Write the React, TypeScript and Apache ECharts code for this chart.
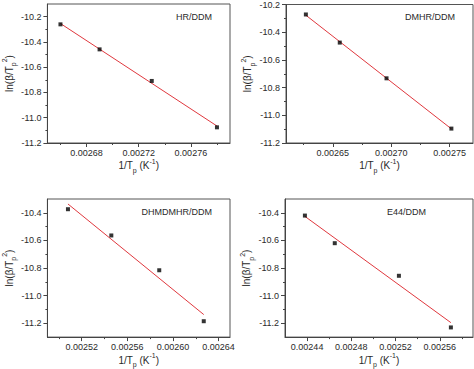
import React, { useEffect, useRef } from 'react';
import * as echarts from 'echarts';

const panelNames = ['HR/DDM', 'DMHR/DDM', 'DHMDMHR/DDM', 'E44/DDM'];

const hrX = [0.00266, 0.00269, 0.00273, 0.00278];
const hrY = [-10.261, -10.459, -10.709, -11.076];
const dmhrX = [0.002627, 0.002656, 0.002696, 0.0027515];
const dmhrY = [-10.272, -10.475, -10.733, -11.096];
const dhmX = [0.002508, 0.002546, 0.002588, 0.002627];
const dhmY = [-10.374, -10.564, -10.816, -11.185];
const e44X = [0.002438, 0.002465, 0.002523, 0.00257];
const e44Y = [-10.42, -10.62, -10.856, -11.23];

const xMin = [0.00265, 0.00261, 0.00249, 0.00242];
const xMax = [0.00279, 0.00277, 0.00265, 0.00259];
const yMin = [-11.2, -11.2, -11.3, -11.3];
const yMax = [-10.1, -10.2, -10.3, -10.3];

const xMajor = [
  [0.00268, 0.00272, 0.00276],
  [0.00265, 0.0027, 0.00275],
  [0.00252, 0.00256, 0.0026, 0.00264],
  [0.00244, 0.00248, 0.00252, 0.00256],
];
const xMinor = [
  [0.00266, 0.0027, 0.00274, 0.00278],
  [0.002625, 0.002675, 0.002725],
  [0.0025, 0.00254, 0.00258, 0.00262],
  [0.00246, 0.0025, 0.00254, 0.00258],
];
const yMajorTop = [-11.2, -11.0, -10.8, -10.6, -10.4, -10.2];
const yMinorTop = [-11.1, -10.9, -10.7, -10.5, -10.3];
const yMajorBottom = [-11.2, -11.0, -10.8, -10.6, -10.4];
const yMinorBottom = [-11.1, -10.9, -10.7, -10.5];

const FONT = "'Liberation Sans', Arial, sans-serif";
const AXIS_COLOR = '#444';
const TEXT_COLOR = '#2a2a2a';
const FIT_COLOR = '#e0383e';

function fitLine(xs: number[], ys: number[]): number[][] {
  const n = xs.length;
  const mx = xs.reduce((a, b) => a + b, 0) / n;
  const my = ys.reduce((a, b) => a + b, 0) / n;
  let sxy = 0;
  let sxx = 0;
  for (let i = 0; i < n; i++) {
    sxy += (xs[i] - mx) * (ys[i] - my);
    sxx += (xs[i] - mx) * (xs[i] - mx);
  }
  const b = sxy / sxx;
  const a = my - b * mx;
  const x0 = Math.min(...xs);
  const x1 = Math.max(...xs);
  return [
    [x0, a + b * x0],
    [x1, a + b * x1],
  ];
}

const grids = [
  { left: 44, top: 4, width: 186, height: 139 },
  { left: 286, top: 4, width: 187, height: 139 },
  { left: 44, top: 199, width: 186, height: 139 },
  { left: 285, top: 199, width: 188, height: 139 },
];
const labelInset = [18, 18, 18, 47];

export default function App() {
  const ref = useRef<HTMLDivElement>(null);
  useEffect(() => {
    if (!ref.current) return;
    const chart = echarts.init(ref.current, undefined, { renderer: 'svg' });
    const xs = [hrX, dmhrX, dhmX, e44X];
    const ys = [hrY, dmhrY, dhmY, e44Y];
    const rich = {
      sub: { fontSize: 7, fontFamily: FONT, color: TEXT_COLOR, verticalAlign: 'bottom', lineHeight: 8 },
      sup: { fontSize: 7, fontFamily: FONT, color: TEXT_COLOR, verticalAlign: 'top', lineHeight: 8 },
    };
    const xAxes: any[] = [];
    const yAxes: any[] = [];
    const series: any[] = [];
    const graphics: any[] = [];
    for (let i = 0; i < 4; i++) {
      const yMaj = i < 2 ? yMajorTop : yMajorBottom;
      const yMin_ = i < 2 ? yMinorTop : yMinorBottom;
      xAxes.push({
        type: 'value',
        gridIndex: i,
        position: 'bottom',
        min: xMin[i],
        max: xMax[i],
        name: '1/T{sub|p} (K{sup|-1})',
        nameLocation: 'middle',
        nameGap: 14,
        nameTextStyle: { fontSize: 10, fontFamily: FONT, color: TEXT_COLOR, lineHeight: 16, rich },
        axisLine: { show: true, lineStyle: { color: AXIS_COLOR, width: 1 } },
        axisTick: { show: true, length: 4, customValues: xMajor[i], lineStyle: { color: AXIS_COLOR } },
        axisLabel: {
          customValues: xMajor[i],
          fontSize: 9,
          fontFamily: FONT,
          color: TEXT_COLOR,
          margin: 5,
          formatter: (v: number) => v.toFixed(5),
        },
        splitLine: { show: false },
      });
      xAxes.push({
        type: 'value',
        gridIndex: i,
        position: 'bottom',
        min: xMin[i],
        max: xMax[i],
        axisLine: { show: false },
        axisTick: { show: true, length: 2, customValues: xMinor[i], lineStyle: { color: AXIS_COLOR } },
        axisLabel: { show: false },
        splitLine: { show: false },
      });
      yAxes.push({
        type: 'value',
        gridIndex: i,
        position: 'left',
        min: yMin[i],
        max: yMax[i],
        name: 'ln(β/T{sub|p}{sup|2})',
        nameLocation: 'middle',
        nameGap: 28,
        nameTextStyle: { fontSize: 10, fontFamily: FONT, color: TEXT_COLOR, lineHeight: 16, rich },
        axisLine: { show: true, lineStyle: { color: AXIS_COLOR, width: 1 } },
        axisTick: { show: true, length: 4, customValues: yMaj, lineStyle: { color: AXIS_COLOR } },
        axisLabel: {
          customValues: yMaj,
          fontSize: 9,
          fontFamily: FONT,
          color: TEXT_COLOR,
          margin: 6,
          formatter: (v: number) => v.toFixed(1),
        },
        splitLine: { show: false },
      });
      yAxes.push({
        type: 'value',
        gridIndex: i,
        position: 'left',
        min: yMin[i],
        max: yMax[i],
        axisLine: { show: false },
        axisTick: { show: true, length: 2, customValues: yMin_, lineStyle: { color: AXIS_COLOR } },
        axisLabel: { show: false },
        splitLine: { show: false },
      });
      series.push({
        type: 'line',
        xAxisIndex: i * 2,
        yAxisIndex: i * 2,
        data: fitLine(xs[i], ys[i]),
        showSymbol: false,
        symbol: 'none',
        lineStyle: { color: FIT_COLOR, width: 1 },
        z: 2,
      });
      series.push({
        type: 'scatter',
        xAxisIndex: i * 2,
        yAxisIndex: i * 2,
        data: xs[i].map((x, k) => [x, ys[i][k]]),
        symbol: 'rect',
        symbolSize: 4,
        itemStyle: { color: '#000' },
        z: 3,
      });
      const g = grids[i];
      graphics.push({
        type: 'text',
        right: 474 - (g.left + g.width) + labelInset[i],
        top: g.top + 8,
        style: { text: panelNames[i], fontSize: 9, fontFamily: FONT, fill: TEXT_COLOR },
      });
    }
    chart.setOption({
      animation: false,
      backgroundColor: '#fff',
      grid: grids.map((g) => ({ ...g, show: true, borderColor: '#555', borderWidth: 1, backgroundColor: 'transparent' })),
      xAxis: xAxes,
      yAxis: yAxes,
      series,
      graphic: graphics,
    });
    return () => chart.dispose();
  }, []);
  return (
    <div
      ref={ref}
      style={{ position: 'fixed', left: 0, top: 0, width: 474, height: 369, background: '#fff' }}
    />
  );
}
